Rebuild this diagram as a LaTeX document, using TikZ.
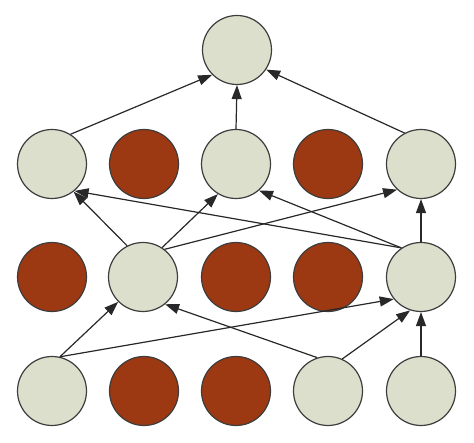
\documentclass[tikz,border=0pt]{standalone}
\usetikzlibrary{arrows.meta}
\definecolor{lightnode}{RGB}{220,223,204}
\definecolor{rednode}{RGB}{156,56,18}
\definecolor{edgecol}{RGB}{40,40,40}
\begin{document}
\begin{tikzpicture}[x=1pt,y=-1pt,
  unit/.style={circle,draw=edgecol!90,line width=1.2pt,minimum size=69pt,inner sep=0pt},
  on/.style={unit,fill=lightnode},
  off/.style={unit,fill=rednode},
  link/.style={draw=edgecol,line width=1.2pt,-{Triangle[length=14pt,width=10pt]}}]
\useasboundingbox (0,0) rectangle (474,443);
% top
\node[on] (T) at (237,50) {};
% row 2
\node[on]  (r2a) at (52,164) {};
\node[off] (r2b) at (144,164) {};
\node[on]  (r2c) at (236,164) {};
\node[off] (r2d) at (328,164) {};
\node[on]  (r2e) at (421,164) {};
% row 3
\node[off] (r3a) at (52,277) {};
\node[on]  (r3b) at (143,277) {};
\node[off] (r3c) at (236,277) {};
\node[off] (r3d) at (328,277) {};
\node[on]  (r3e) at (421,277) {};
% row 4
\node[on]  (r4a) at (52,391) {};
\node[off] (r4b) at (144,391) {};
\node[off] (r4c) at (236,391) {};
\node[on]  (r4d) at (328,391) {};
\node[on]  (r4e) at (421,391) {};
% edges to top
\draw[link] (r2a.58) -- (T.-135);
\draw[link] (r2c.north) -- (T.south);
\draw[link] (r2e.118) -- (T.-34);
% row3 -> row2
\draw[link] (r3b.117) -- (r2a.-52);
\draw[link] (r3b.57) -- (r2c.-121);
\draw[link] (r3b.52) -- (r2e.-133);
\draw[link] (r3e.124) -- (r2a.-50);
\draw[link] (r3e.124) -- (r2c.-49);
\draw[link] (r3e.north) -- (r2e.south);
% row4 -> row3
\draw[link] (r4a.77) -- (r3b.-135);
\draw[link] (r4a.77) -- (r3e.-141);
\draw[link] (r4d.108) -- (r3b.-51);
\draw[link] (r4d.66) -- (r3e.-108);
\draw[link] (r4e.north) -- (r3e.south);
\end{tikzpicture}
\end{document}
